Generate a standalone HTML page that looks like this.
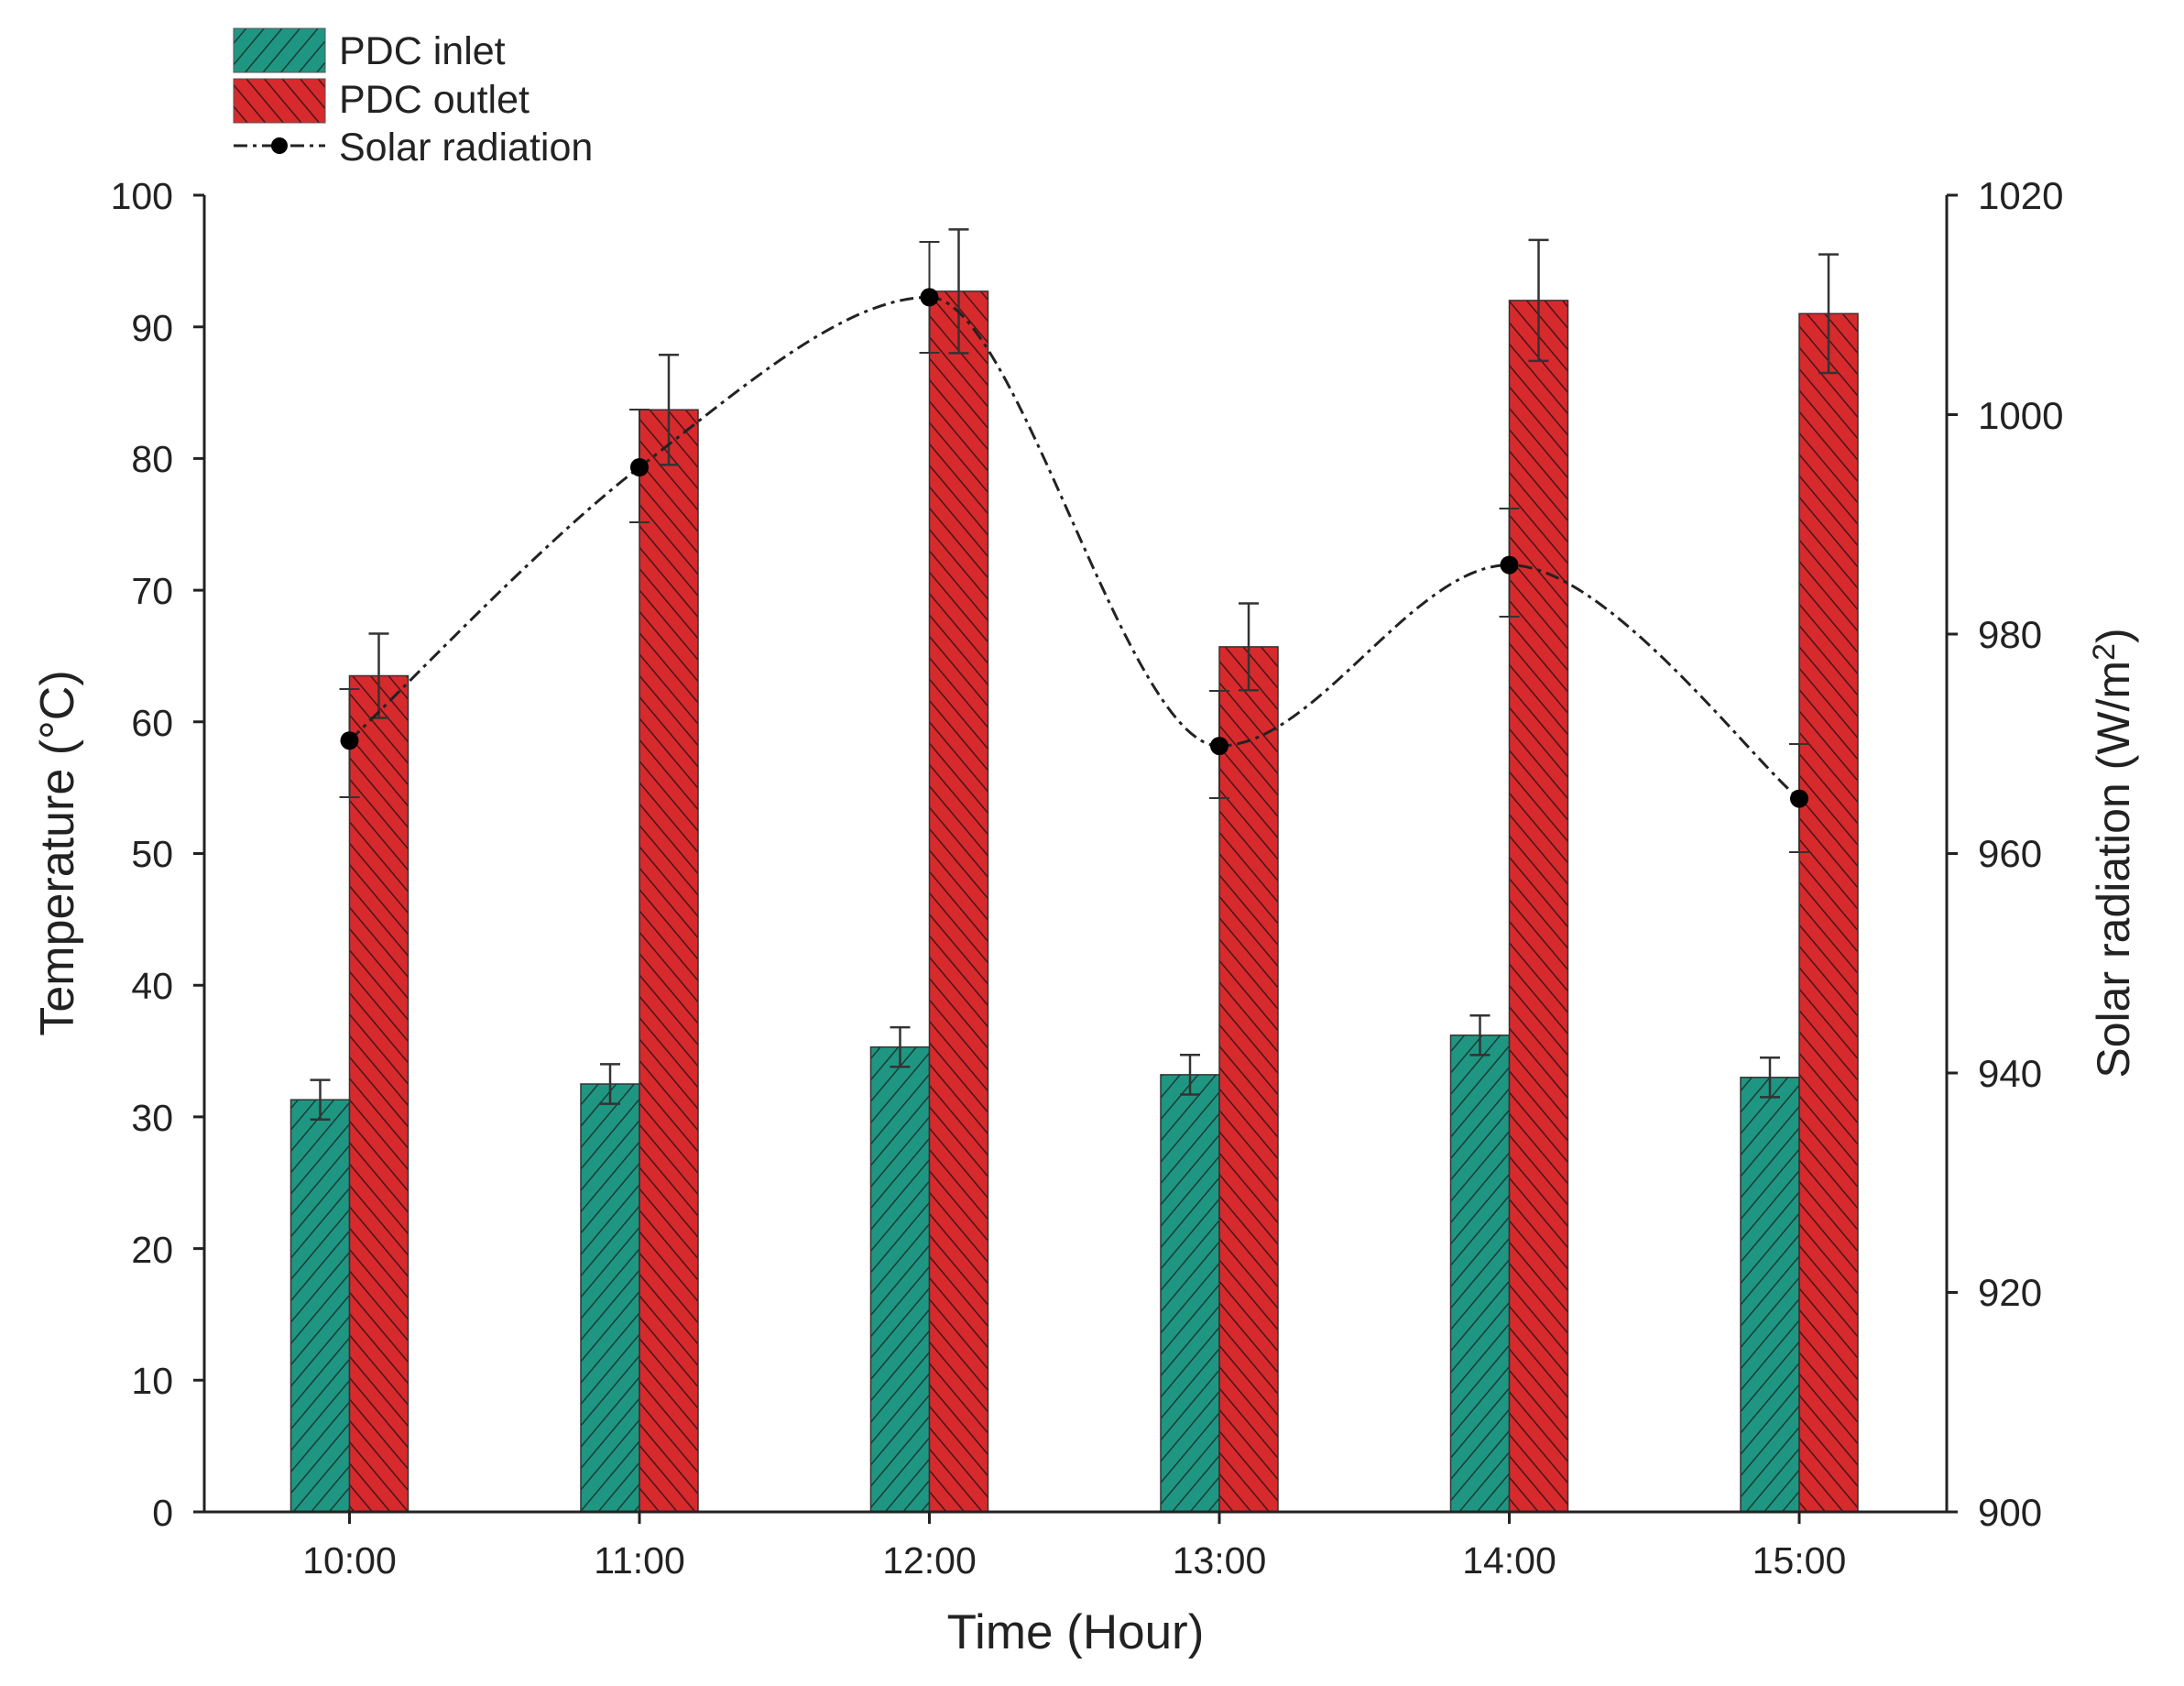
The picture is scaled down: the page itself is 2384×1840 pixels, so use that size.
<!DOCTYPE html>
<html><head><meta charset="utf-8"><style>
html,body{margin:0;padding:0;background:#fff;}
svg{display:block;}
text{font-family:"Liberation Sans",Arial,sans-serif;fill:#222;}
</style></head><body>
<svg width="2384" height="1840" viewBox="0 0 2384 1840" xmlns="http://www.w3.org/2000/svg">
<defs>
<pattern id="pin" width="15" height="15" patternUnits="userSpaceOnUse" patternTransform="rotate(40)">
<rect width="15" height="15" fill="#1f9682"/><line x1="0" y1="0" x2="0" y2="15" stroke="#173d36" stroke-width="3"/>
</pattern>
<pattern id="pout" width="15" height="15" patternUnits="userSpaceOnUse" patternTransform="rotate(-40)">
<rect width="15" height="15" fill="#d62a2d"/><line x1="0" y1="0" x2="0" y2="15" stroke="#4a1416" stroke-width="3"/>
</pattern>
</defs>

<!-- Legend -->
<rect x="255" y="31" width="100" height="48" fill="url(#pin)" stroke="#555" stroke-width="1"/>
<rect x="255" y="86" width="100" height="48" fill="url(#pout)" stroke="#555" stroke-width="1"/>
<text x="370" y="70" font-size="43">PDC inlet</text>
<text x="370" y="123" font-size="43">PDC outlet</text>
<line x1="255" y1="159" x2="355" y2="159" stroke="#222" stroke-width="3" stroke-dasharray="15,6,4,6"/>
<circle cx="305" cy="159" r="9" fill="#000"/>
<text x="370" y="175" font-size="43">Solar radiation</text>

<!-- Bars -->
<g stroke="#333" stroke-width="1.5">
<rect x="317.5" y="1200.2" width="64" height="449.8" fill="url(#pin)"/>
<rect x="381.5" y="737.5" width="64" height="912.5" fill="url(#pout)"/>
<rect x="634" y="1183" width="64" height="467" fill="url(#pin)"/>
<rect x="698" y="447.2" width="64" height="1202.8" fill="url(#pout)"/>
<rect x="950.5" y="1142.7" width="64" height="507.3" fill="url(#pin)"/>
<rect x="1014.5" y="317.9" width="64" height="1332.1" fill="url(#pout)"/>
<rect x="1267" y="1172.9" width="64" height="477.1" fill="url(#pin)"/>
<rect x="1331" y="705.9" width="64" height="944.1" fill="url(#pout)"/>
<rect x="1583.5" y="1129.8" width="64" height="520.2" fill="url(#pin)"/>
<rect x="1647.5" y="327.9" width="64" height="1322.1" fill="url(#pout)"/>
<rect x="1900" y="1175.8" width="64" height="474.2" fill="url(#pin)"/>
<rect x="1964" y="342.3" width="64" height="1307.7" fill="url(#pout)"/>
</g>

<!-- Error bars -->
<g stroke="#333" stroke-width="2.5" fill="none">
<path d="M349.5 1178.6V1221.8M338.5 1178.6h22M338.5 1221.8h22"/>
<path d="M666 1161.4V1204.6M655 1161.4h22M655 1204.6h22"/>
<path d="M982.5 1121.1V1164.3M971.5 1121.1h22M971.5 1164.3h22"/>
<path d="M1299 1151.3V1194.5M1288 1151.3h22M1288 1194.5h22"/>
<path d="M1615.5 1108.2V1151.4M1604.5 1108.2h22M1604.5 1151.4h22"/>
<path d="M1932 1154.2V1197.4M1921 1154.2h22M1921 1197.4h22"/>

<path d="M413.5 691.5V783.5M402.5 691.5h22M402.5 783.5h22"/>
<path d="M730 387.2V507.2M719 387.2h22M719 507.2h22"/>
<path d="M1046.5 250.4V385.4M1035.5 250.4h22M1035.5 385.4h22"/>
<path d="M1363 658.5V753.3M1352 658.5h22M1352 753.3h22"/>
<path d="M1679.5 261.9V393.9M1668.5 261.9h22M1668.5 393.9h22"/>
<path d="M1996 277.6V407M1985 277.6h22M1985 407h22"/>

<path d="M381.5 752V870M370.5 752h22M370.5 870h22" stroke-width="2"/>
<path d="M698 447V570M687 447h22M687 570h22" stroke-width="2"/>
<path d="M1014.5 264V385M1003.5 264h22M1003.5 385h22" stroke-width="2"/>
<path d="M1331 754V871M1320 754h22M1320 871h22" stroke-width="2"/>
<path d="M1647.5 555V673M1636.5 555h22M1636.5 673h22" stroke-width="2"/>
<path d="M1964 812V930M1953 812h22M1953 930h22" stroke-width="2"/>
</g>

<!-- Solar curve -->
<path d="M381.5 808.2 C434.25 758.5 592.5 590.6 698 510 C803.5 429.4 920 324.4 1014.5 324.4 C1110 324.4 1230 814.1 1331 814.1 C1436.5 814.1 1542 616.6 1647.5 616.6 C1753 616.6 1911.25 829.1 1964 871.6" fill="none" stroke="#222" stroke-width="3" stroke-dasharray="15,6,4,6"/>
<g fill="#000">
<circle cx="381.5" cy="808.2" r="10"/><circle cx="698" cy="510" r="10"/><circle cx="1014.5" cy="324.4" r="10"/>
<circle cx="1331" cy="814.1" r="10"/><circle cx="1647.5" cy="616.6" r="10"/><circle cx="1964" cy="871.6" r="10"/>
</g>

<!-- Axes -->
<g stroke="#222" stroke-width="3" fill="none">
<path d="M223 213V1650H2125V213"/>
<path d="M211 213h12M211 356.7h12M211 500.4h12M211 644.1h12M211 787.8h12M211 931.5h12M211 1075.2h12M211 1218.9h12M211 1362.6h12M211 1506.3h12M211 1650h12"/>
<path d="M2125 213h12M2125 452.5h12M2125 692h12M2125 931.5h12M2125 1171h12M2125 1410.5h12M2125 1650h12"/>
<path d="M381.5 1650v13M698 1650v13M1014.5 1650v13M1331 1650v13M1647.5 1650v13M1964 1650v13"/>
</g>

<g font-size="41" text-anchor="end">
<text x="189" y="228">100</text><text x="189" y="372">90</text><text x="189" y="515">80</text>
<text x="189" y="659">70</text><text x="189" y="803">60</text><text x="189" y="946">50</text>
<text x="189" y="1090">40</text><text x="189" y="1234">30</text><text x="189" y="1378">20</text>
<text x="189" y="1521">10</text><text x="189" y="1665">0</text>
</g>
<g font-size="42" text-anchor="start">
<text x="2159" y="228">1020</text><text x="2159" y="468">1000</text><text x="2159" y="707">980</text>
<text x="2159" y="946">960</text><text x="2159" y="1186">940</text><text x="2159" y="1425">920</text>
<text x="2159" y="1665">900</text>
</g>
<g font-size="41" text-anchor="middle">
<text x="381.5" y="1717">10:00</text><text x="698" y="1717">11:00</text><text x="1014.5" y="1717">12:00</text>
<text x="1331" y="1717">13:00</text><text x="1647.5" y="1717">14:00</text><text x="1964" y="1717">15:00</text>
</g>
<text x="1174" y="1799" font-size="53" text-anchor="middle">Time (Hour)</text>
<text transform="translate(80,931) rotate(-90)" font-size="52" text-anchor="middle">Temperature (°C)</text>
<text transform="translate(2324,931) rotate(-90)" font-size="50" text-anchor="middle">Solar radiation (W/m<tspan dy="-16" font-size="34">2</tspan><tspan dy="16">)</tspan></text>
</svg>
</body></html>
